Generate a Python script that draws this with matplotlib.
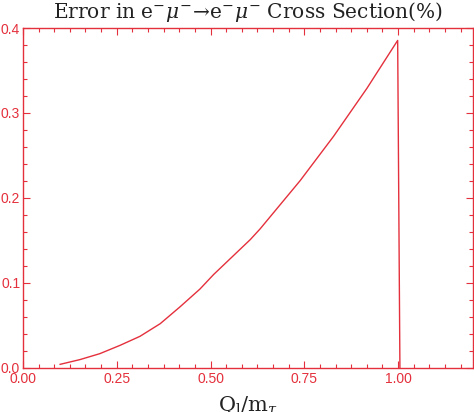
import matplotlib
matplotlib.use("Agg")
import matplotlib.pyplot as plt
from matplotlib.ticker import AutoMinorLocator

# Data
q_ratio = [0.099, 0.152, 0.205, 0.259, 0.312, 0.366, 0.419, 0.472, 0.508,
           0.606, 0.632, 0.739, 0.828, 0.917, 0.999, 1.005]
err_pct = [0.0042, 0.0098, 0.0168, 0.0266, 0.0372, 0.0521, 0.072, 0.0929, 0.1098,
           0.151, 0.1635, 0.2204, 0.2725, 0.329, 0.3854, 0.0]

x_ticks = [0.0, 0.25, 0.5, 0.75, 1.0]
x_tick_labels = ["0.00", "0.25", "0.50", "0.75", "1.00"]
y_ticks = [0.0, 0.1, 0.2, 0.3, 0.4]
y_tick_labels = ["0.0", "0.1", "0.2", "0.3", "0.4"]

RED = "#e4303c"

plt.rcParams['mathtext.fontset'] = 'dejavuserif'

fig = plt.figure(figsize=(4.74, 4.12), dpi=100)
ax = fig.add_axes([0.0485, 0.107, 0.9495, 0.825])

ax.plot(q_ratio, err_pct, color=RED, lw=1.0)

ax.set_xlim(0, 1.2)
ax.set_ylim(0, 0.4)
ax.set_xticks(x_ticks)
ax.set_xticklabels(x_tick_labels)
ax.set_yticks(y_ticks)
ax.set_yticklabels(y_tick_labels)
ax.xaxis.set_minor_locator(AutoMinorLocator(6))
ax.yaxis.set_minor_locator(AutoMinorLocator(5))

for s in ax.spines.values():
    s.set_color(RED)
    s.set_linewidth(1.0)

ax.tick_params(which='both', direction='in', top=True, right=True, colors=RED,
               labelcolor=RED, labelsize=10)
ax.tick_params(which='major', length=5, width=0.8, pad=3)
ax.tick_params(which='minor', length=3, width=0.8)
ax.tick_params(axis='y', pad=2)
for lab in ax.get_xticklabels() + ax.get_yticklabels():
    lab.set_fontfamily('Liberation Sans')

ax.set_title(r'Error in e$^{-}\mu^{-}\!\rightarrow\!$e$^{-}\mu^{-}$ Cross Section(%)',
             fontsize=14.5, family='DejaVu Serif', color='#222222', pad=7)
ax.set_xlabel(r'Q$_{\rm l}$/m$_\tau$', fontsize=15, family='DejaVu Serif',
              color='#222222', labelpad=6)

fig.savefig("out.png", dpi=100)
